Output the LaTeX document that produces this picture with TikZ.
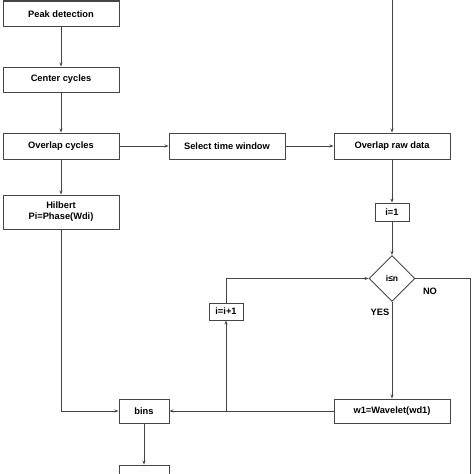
\documentclass[tikz,border=0pt]{standalone}
\usepackage{fontspec}
\setmainfont{Liberation Sans}
\usetikzlibrary{shapes.geometric,arrows.meta}
\definecolor{ln}{HTML}{454545}
\begin{document}
\begin{tikzpicture}[x=1pt,y=-1pt,
  box/.style={draw=ln,line width=0.95pt,rectangle,inner sep=0pt,align=center,
    font=\fontsize{9.3}{11}\selectfont\bfseries},
  dia/.style={draw=ln,line width=0.95pt,diamond,inner sep=0pt,minimum width=46pt,minimum height=46pt,
    font=\fontsize{8.5}{10}\selectfont\bfseries},
  lbl/.style={font=\fontsize{9.3}{11}\selectfont\bfseries,inner sep=0pt},
  con/.style={draw=ln,line width=0.95pt},
  arr/.style={con,-{Stealth[length=4pt,width=3pt]}}]
\useasboundingbox (0,0) rectangle (474,474);
\begin{scope}
\clip (0,0) rectangle (474,474);
\node[box,minimum width=116pt,minimum height=25pt] (top) at (61,-12.2) {};
\node[box,minimum width=50pt,minimum height=50pt] (end) at (144,490) {};
\end{scope}
\node[box,minimum width=116pt,minimum height=24.5pt] (peak) at (61,14) {Peak detection};
\node[box,minimum width=116pt,minimum height=25pt] (center) at (61,79.5) {Center cycles};
\node[box,minimum width=116pt,minimum height=26pt] (ovc) at (61,146) {Overlap cycles};
\node[box,minimum width=116pt,minimum height=34pt] (hil) at (61,212) {Hilbert\\Pi=Phase(Wdi)};
\node[box,minimum width=116pt,minimum height=26pt] (sel) at (227,146) {Select time window};
\node[box,minimum width=116pt,minimum height=26pt] (ovr) at (392,146) {Overlap raw data};
\node[box,minimum width=34pt,minimum height=18pt] (i1) at (392,212) {i=1};
\node[dia] (cond) at (392,278.5) {i≤n};
\node[box,minimum width=116pt,minimum height=24pt] (wav) at (392,411) {w1=Wavelet(wd1)};
\node[box,minimum width=50pt,minimum height=24pt] (bins) at (144,411) {bins};
\node[box,minimum width=34pt,minimum height=17pt] (inc) at (226,311.5) {i=i+1};
\node[lbl] (no) at (430,291) {NO};
\node[lbl] (yes) at (380,312) {YES};
\coordinate (src) at (392,-5);
\coordinate (noend) at (470,480);
\coordinate (split) at (226,411);
\draw[con] (top) -- (peak);
\draw[arr] (peak) -- (center);
\draw[arr] (center) -- (ovc);
\draw[arr] (ovc) -- (hil);
\draw[arr] (ovc) -- (sel);
\draw[arr] (sel) -- (ovr);
\draw[arr] (src) -- (ovr);
\draw[arr] (ovr) -- (i1);
\draw[arr] (i1) -- (cond);
\draw[arr] (cond.south) -- (wav);
\draw[con] (cond.east) -| (noend);
\draw[arr] (wav) -- (bins);
\draw[arr] (split) -- (inc);
\draw[arr] (inc.north) |- (cond.west);
\draw[arr] (hil) |- (bins);
\draw[arr] (bins) -- (end);
\end{tikzpicture}
\end{document}
